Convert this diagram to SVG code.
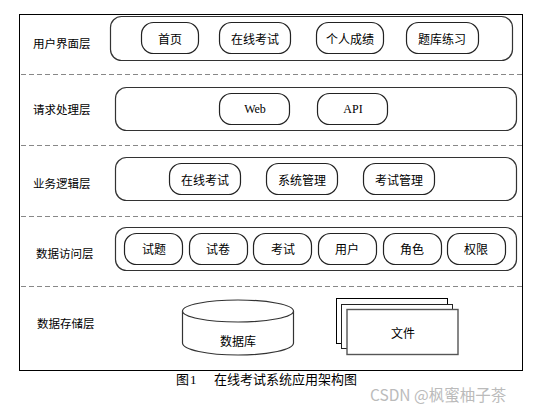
<svg xmlns="http://www.w3.org/2000/svg" width="556" height="417" viewBox="0 0 556 417">
<style>
.frame{fill:#fff;stroke:#000;stroke-width:1}
.sep{stroke:#888;stroke-width:1;stroke-dasharray:5,3;fill:none}
.cont{fill:#fff;stroke:#333;stroke-width:1.2}
.node{fill:#fff;stroke:#222;stroke-width:1.2}
.t{font-family:"Noto Sans CJK SC","Noto Sans",sans-serif;font-size:12px;fill:#000;text-anchor:middle;dominant-baseline:central}
.lab{font-family:"Noto Sans CJK SC","Noto Sans",sans-serif;font-size:11.5px;fill:#000;dominant-baseline:central}
.en{font-family:"Liberation Serif",serif;font-size:12px;fill:#000;text-anchor:middle;dominant-baseline:central}
.cap{font-family:"Noto Sans CJK SC",sans-serif;font-size:13px;fill:#000}
</style>
<rect x="0" y="0" width="556" height="417" fill="#fff"/>
<rect class="frame" x="19.5" y="14.5" width="503" height="356"/>
<g id="separators">
<line class="sep" x1="21" y1="74.5" x2="522" y2="74.5"/>
<line class="sep" x1="21" y1="145.5" x2="522" y2="145.5"/>
<line class="sep" x1="21" y1="216.5" x2="522" y2="216.5"/>
<line class="sep" x1="21" y1="286.5" x2="522" y2="286.5"/>
</g>
<g id="layer-ui">
<text class="lab" x="33" y="43">用户界面层</text>
<rect class="cont" x="110.5" y="16.5" width="402" height="44" rx="11"/>
<g id="n-home"><rect class="node" x="141.5" y="22.5" width="57" height="31" rx="12"/><text class="t" x="170" y="38">首页</text></g>
<g id="n-exam"><rect class="node" x="219.5" y="22.5" width="71" height="31" rx="12"/><text class="t" x="255" y="38">在线考试</text></g>
<g id="n-score"><rect class="node" x="316.5" y="22.5" width="67" height="31" rx="12"/><text class="t" x="350" y="38">个人成绩</text></g>
<g id="n-bank"><rect class="node" x="406.5" y="22.5" width="72" height="31" rx="12"/><text class="t" x="442" y="38">题库练习</text></g>
</g>
<g id="layer-req">
<text class="lab" x="33" y="109">请求处理层</text>
<rect class="cont" x="115.5" y="87.5" width="401" height="43" rx="11"/>
<g id="n-web"><rect class="node" x="219.5" y="93.5" width="70" height="31" rx="12"/><text class="en" x="255" y="109">Web</text></g>
<g id="n-api"><rect class="node" x="317.5" y="93.5" width="70" height="31" rx="12"/><text class="en" x="353" y="109">API</text></g>
</g>
<g id="layer-biz">
<text class="lab" x="33" y="183">业务逻辑层</text>
<rect class="cont" x="115.5" y="157.5" width="401" height="43" rx="11"/>
<g id="n-online"><rect class="node" x="169.5" y="163.5" width="71" height="31" rx="12"/><text class="t" x="205" y="179">在线考试</text></g>
<g id="n-sys"><rect class="node" x="266.5" y="163.5" width="71" height="31" rx="12"/><text class="t" x="302" y="179">系统管理</text></g>
<g id="n-mgmt"><rect class="node" x="363.5" y="163.5" width="71" height="31" rx="12"/><text class="t" x="399" y="179">考试管理</text></g>
</g>
<g id="layer-dao">
<text class="lab" x="36" y="253">数据访问层</text>
<rect class="cont" x="115.5" y="227.5" width="401" height="43" rx="11"/>
<g id="n-q"><rect class="node" x="124.5" y="233.5" width="58" height="31" rx="12"/><text class="t" x="154" y="248">试题</text></g>
<g id="n-paper"><rect class="node" x="189.5" y="233.5" width="58" height="31" rx="12"/><text class="t" x="218" y="248">试卷</text></g>
<g id="n-test"><rect class="node" x="253.5" y="233.5" width="58" height="31" rx="12"/><text class="t" x="283" y="248">考试</text></g>
<g id="n-user"><rect class="node" x="318.5" y="233.5" width="58" height="31" rx="12"/><text class="t" x="347" y="248">用户</text></g>
<g id="n-role"><rect class="node" x="383.5" y="233.5" width="58" height="31" rx="12"/><text class="t" x="412" y="248">角色</text></g>
<g id="n-perm"><rect class="node" x="447.5" y="233.5" width="58" height="31" rx="12"/><text class="t" x="476" y="248">权限</text></g>
</g>
<g id="layer-store">
<text class="lab" x="37" y="323">数据存储层</text>
<g id="n-db">
<path d="M182.5,311 L182.5,343 A55.5,12 0 0 0 293.5,343 L293.5,311" fill="#fff" stroke="#333" stroke-width="1.2"/>
<ellipse cx="238" cy="311" rx="55.5" ry="11" fill="#fff" stroke="#333" stroke-width="1.2"/>
<text class="t" x="238" y="340">数据库</text>
</g>
<g id="n-file">
<rect x="336.5" y="298.5" width="111" height="45" fill="#fff" stroke="#000" stroke-width="1"/>
<rect x="341.5" y="304.5" width="111" height="44" fill="#fff" stroke="#222" stroke-width="1"/>
<rect x="347" y="309.5" width="111" height="45" fill="#fff" stroke="#555" stroke-width="1.4"/>
<text class="t" x="403" y="332">文件</text>
</g>
</g>
<g id="connectors"></g>
<text class="cap" x="176" y="384">图<tspan font-family="'Liberation Serif',serif" dx="1">1</tspan></text>
<text class="cap" x="214" y="384">在线考试系统应用架构图</text>
<text x="370" y="401" font-family="'Noto Sans CJK SC',sans-serif" font-size="15.5" fill="#bbb">CSDN @枫蜜柚子茶</text>
</svg>
